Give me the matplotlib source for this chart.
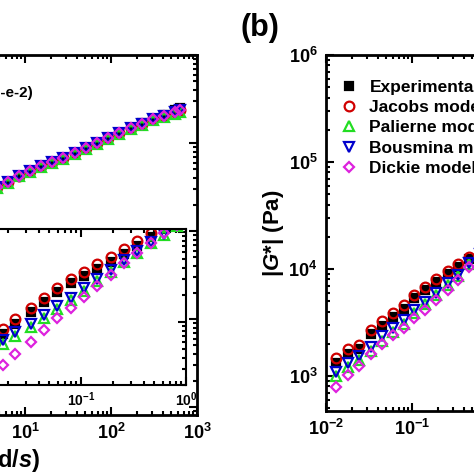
import matplotlib
matplotlib.use("Agg")
import matplotlib.pyplot as plt
import numpy as np

plt.rcParams['font.family'] = ['Liberation Sans', 'DejaVu Sans']
plt.rcParams['mathtext.fontset'] = 'custom'
plt.rcParams['mathtext.rm'] = 'Liberation Sans:bold'
plt.rcParams['mathtext.it'] = 'Liberation Sans:bold:italic'

# ---- panel (a) main: frequency (rad/s) and log10 |G*| ----
freq_a = [4.7, 6.3, 8.5, 11.5, 15.5, 20.4, 27.5, 38, 51, 69, 93, 123, 170, 229, 309, 417, 550, 640]
loga_exp = [4.50, 4.56, 4.63, 4.68, 4.74, 4.78, 4.83, 4.89, 4.94, 5.00, 5.06, 5.11, 5.17, 5.23, 5.27, 5.32, 5.37, 5.40]
loga_jac = [4.50, 4.56, 4.63, 4.68, 4.74, 4.78, 4.83, 4.89, 4.94, 5.00, 5.06, 5.11, 5.17, 5.22, 5.27, 5.31, 5.35, 5.37]
loga_pal = [4.49, 4.55, 4.62, 4.67, 4.73, 4.77, 4.82, 4.88, 4.93, 4.99, 5.05, 5.10, 5.16, 5.21, 5.26, 5.30, 5.33, 5.35]
loga_bou = [4.50, 4.56, 4.63, 4.68, 4.74, 4.78, 4.83, 4.89, 4.94, 5.00, 5.06, 5.11, 5.17, 5.22, 5.27, 5.31, 5.35, 5.37]
loga_dic = [4.50, 4.56, 4.63, 4.68, 4.74, 4.78, 4.83, 4.89, 4.94, 5.00, 5.06, 5.11, 5.17, 5.22, 5.27, 5.31, 5.35, 5.37]

# ---- panel (a) inset ----
freq_in = [0.018, 0.0235, 0.0334, 0.0445, 0.059, 0.080, 0.107, 0.142, 0.193, 0.257, 0.341, 0.465, 0.62, 0.82]
login_exp = [2.87, 2.98, 3.11, 3.22, 3.33, 3.43, 3.51, 3.59, 3.67, 3.76, 3.85, 3.94, 4.03, 4.12]
login_jac = [2.92, 3.03, 3.16, 3.27, 3.38, 3.48, 3.56, 3.64, 3.72, 3.81, 3.90, 3.99, 4.08, 4.17]
login_pal = [2.76, 2.85, 2.94, 3.04, 3.14, 3.24, 3.35, 3.46, 3.56, 3.67, 3.77, 3.88, 3.97, 4.07]
login_bou = [2.80, 2.89, 2.98, 3.08, 3.18, 3.27, 3.38, 3.48, 3.58, 3.69, 3.79, 3.89, 3.98, 4.08]
login_dic = [2.52, 2.64, 2.78, 2.91, 3.04, 3.16, 3.28, 3.40, 3.52, 3.66, 3.77, 3.88, 3.99, 4.08]

# ---- panel (b) ----
freq_b = [0.013, 0.018, 0.024, 0.033, 0.045, 0.06, 0.08, 0.105, 0.14, 0.19, 0.26, 0.34, 0.46, 0.62, 0.82]
logb_exp = [3.12, 3.21, 3.25, 3.39, 3.47, 3.55, 3.63, 3.73, 3.80, 3.88, 3.95, 4.02, 4.09, 4.16, 4.23]
logb_jac = [3.165, 3.25, 3.29, 3.43, 3.51, 3.59, 3.66, 3.76, 3.83, 3.91, 3.98, 4.05, 4.11, 4.18, 4.25]
logb_pal = [3.00, 3.08, 3.15, 3.23, 3.33, 3.41, 3.49, 3.59, 3.67, 3.76, 3.85, 3.93, 4.05, 4.13, 4.21]
logb_bou = [3.04, 3.12, 3.19, 3.27, 3.37, 3.45, 3.52, 3.62, 3.69, 3.78, 3.87, 3.94, 4.06, 4.14, 4.22]
logb_dic = [2.90, 3.01, 3.09, 3.21, 3.30, 3.38, 3.45, 3.54, 3.62, 3.71, 3.80, 3.90, 4.02, 4.11, 4.20]

labels = ['Experimental', 'Jacobs model', 'Palierne model', 'Bousmina model', 'Dickie model']
styles = [dict(marker='s', color='black', mfc='black'),
          dict(marker='o', color='#d00000', mfc='none'),
          dict(marker='^', color='#22dd22', mfc='none'),
          dict(marker='v', color='#0000cc', mfc='none'),
          dict(marker='D', color='#dd22dd', mfc='none')]

W = 474.0
fig = plt.figure(figsize=(4.74, 4.74), dpi=100)

def rect(l, r, t, b):
    return [l / W, (W - b) / W, (r - l) / W, (b - t) / W]

def style_axes(ax, lw=2.0):
    for s in ax.spines.values():
        s.set_linewidth(lw)
    ax.tick_params(which='both', direction='in', top=True, right=True, width=1.5)
    ax.tick_params(which='major', length=6)
    ax.tick_params(which='minor', length=3)

def plot_set(ax, x, ys, ms=7):
    for y, st in zip(ys, styles):
        ms_ = ms * (0.8 if st['marker'] in ('s', 'D') else 1.0)
        ax.plot(x, 10 ** np.array(y), ls='none', marker=st['marker'], color=st['color'],
                mfc=st['mfc'], mec=st['color'], mew=1.6, ms=ms_)

# panel (a) main
axa = fig.add_axes(rect(-147, 197, 55, 415))
plot_set(axa, freq_a, [loga_exp, loga_jac, loga_pal, loga_bou, loga_dic])
axa.set_xscale('log'); axa.set_yscale('log')
axa.set_xlim(0.1, 1000)
axa.set_ylim(10 ** (3 - 96 / 88), 10 ** (5 + 88 / 88))
style_axes(axa)
axa.tick_params(labelleft=False)
axa.tick_params(axis='x', labelsize=13, pad=6)
axa.set_xticks([1, 10, 100, 1000])
axa.set_xticklabels([r'$\mathrm{10^{0}}$', r'$\mathrm{10^{1}}$', r'$\mathrm{10^{2}}$', r'$\mathrm{10^{3}}$'])
axa.text((147 + 33) / 344, 1 - 38 / 360, 'PS/PP (1-e-2)', transform=axa.transAxes, ha='right', va='center',
         fontsize=11, fontweight='bold')
fig.text(40 / W, 1 - 460 / W, r'$\omega$ (rad/$s$)', ha='right', va='center', fontsize=17, fontweight='bold')

# inset
axi = fig.add_axes(rect(-24, 186, 229, 385))
plot_set(axi, freq_in, [login_exp, login_jac, login_pal, login_bou, login_dic])
axi.set_xscale('log'); axi.set_yscale('log')
axi.set_xlim(0.01, 1)
axi.set_ylim(10 ** 2.3, 10 ** (4 + 3 / 90))
style_axes(axi, lw=1.5)
axi.tick_params(labelleft=False, labelsize=10, pad=4)
axi.set_xticks([0.01, 0.1, 1])
axi.set_xticklabels([r'$\mathrm{10^{-2}}$', r'$\mathrm{10^{-1}}$', r'$\mathrm{10^{0}}$'])

# panel (b)
axb = fig.add_axes(rect(326, 670, 55, 411))
for y, st, lab in zip([logb_exp, logb_jac, logb_pal, logb_bou, logb_dic], styles, labels):
    ms_ = 7 * (0.8 if st['marker'] in ('s', 'D') else 1.0)
    axb.plot(freq_b, 10 ** np.array(y), ls='none', marker=st['marker'], color=st['color'],
             mfc=st['mfc'], mec=st['color'], mew=1.6, ms=ms_, label=lab)
axb.set_xscale('log'); axb.set_yscale('log')
axb.set_xlim(0.01, 100)
axb.set_ylim(10 ** (3 - 35 / 107), 1e6)
style_axes(axb)
axb.tick_params(labelsize=13, pad=6)
axb.set_yticks([1e3, 1e4, 1e5, 1e6])
axb.set_yticklabels([r'$\mathrm{10^{3}}$', r'$\mathrm{10^{4}}$', r'$\mathrm{10^{5}}$', r'$\mathrm{10^{6}}$'])
axb.set_xticks([0.01, 0.1, 1, 10, 100])
axb.set_xticklabels([r'$\mathrm{10^{-2}}$', r'$\mathrm{10^{-1}}$', r'$\mathrm{10^{0}}$', r'$\mathrm{10^{1}}$', r'$\mathrm{10^{2}}$'])
axb.set_ylabel(r'|$G$*| (Pa)', fontsize=16, fontweight='bold', labelpad=2)
axb.legend(loc='upper left', bbox_to_anchor=(0.0, 0.965), frameon=False,
           prop=dict(weight='bold', size=12.5), handletextpad=0.6, labelspacing=0.3,
           borderaxespad=0.3, handlelength=1.2)
fig.text(240 / W, 1 - 28 / W, '(b)', fontsize=22, fontweight='bold', va='center', ha='left')

fig.savefig('out.png', dpi=100)
